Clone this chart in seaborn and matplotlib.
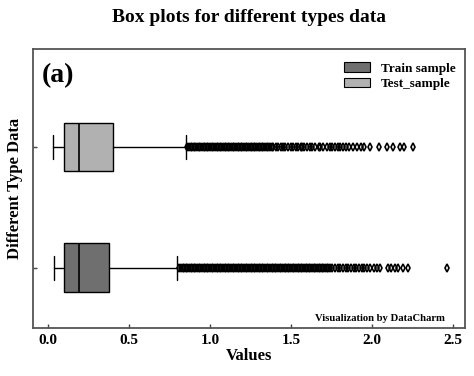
import matplotlib
matplotlib.use("Agg")
import matplotlib.pyplot as plt
import seaborn as sns
from matplotlib.patches import Patch

# ---- data ----
categories = ["Train sample", "Test_sample"]
box_colors = ["#6f6f6f", "#b1b1b1"]

# whisker low, Q1, median, Q3, whisker high
train_stats = [0.035, 0.097, 0.19, 0.378, 0.796]
test_stats = [0.033, 0.097, 0.19, 0.40, 0.85]

train_fliers = [0.81, 0.82, 0.83, 0.84, 0.85, 0.86, 0.87, 0.88, 0.89, 0.90,
                0.91, 0.92, 0.93, 0.94, 0.95, 0.96, 0.97, 0.98, 0.99, 1.00,
                1.01, 1.02, 1.03, 1.04, 1.05, 1.06, 1.07, 1.08, 1.09, 1.10,
                1.11, 1.12, 1.13, 1.14, 1.15, 1.16, 1.17, 1.18, 1.19, 1.20,
                1.21, 1.22, 1.23, 1.24, 1.25, 1.26, 1.27, 1.28, 1.29, 1.30,
                1.31, 1.32, 1.33, 1.34, 1.35, 1.36, 1.37, 1.38, 1.39, 1.40,
                1.41, 1.42, 1.43, 1.44, 1.45, 1.46, 1.47, 1.48, 1.49, 1.50,
                1.51, 1.52, 1.53, 1.54, 1.55, 1.56, 1.57, 1.58, 1.59, 1.60,
                1.61, 1.62, 1.63, 1.64, 1.65, 1.66, 1.67, 1.68, 1.69, 1.70,
                1.71, 1.72, 1.73, 1.74, 1.75, 1.77, 1.79, 1.80, 1.82, 1.84,
                1.85, 1.87, 1.89, 1.90, 1.92, 1.94, 1.95, 1.97, 1.99, 2.01,
                2.03, 2.05, 2.10, 2.12, 2.14, 2.16, 2.19, 2.22, 2.46]
test_fliers = [0.86, 0.87, 0.88, 0.89, 0.90, 0.91, 0.92, 0.93, 0.94, 0.95,
               0.96, 0.97, 0.98, 0.99, 1.00, 1.01, 1.02, 1.03, 1.04, 1.05,
               1.06, 1.07, 1.08, 1.09, 1.10, 1.11, 1.12, 1.13, 1.14, 1.15,
               1.16, 1.17, 1.18, 1.19, 1.20, 1.21, 1.22, 1.23, 1.24, 1.25,
               1.26, 1.27, 1.28, 1.29, 1.30, 1.31, 1.32, 1.33, 1.34, 1.35,
               1.36, 1.37, 1.38, 1.39, 1.41, 1.42, 1.44, 1.45, 1.46, 1.48,
               1.50, 1.51, 1.53, 1.54, 1.56, 1.57, 1.58, 1.60, 1.62, 1.63,
               1.65, 1.67, 1.68, 1.70, 1.72, 1.74, 1.75, 1.77, 1.79, 1.80,
               1.82, 1.84, 1.86, 1.88, 1.91, 1.93, 1.95, 1.99, 2.04, 2.09,
               2.13, 2.17, 2.20, 2.25]

xticks = [0.0, 0.5, 1.0, 1.5, 2.0, 2.5]

# ---- style ----
sns.set_style("ticks")
plt.rcParams["font.family"] = ["Liberation Serif", "DejaVu Serif"]
plt.rcParams["font.weight"] = "bold"
plt.rcParams["text.color"] = "black"
plt.rcParams["axes.labelcolor"] = "black"
plt.rcParams["xtick.color"] = "black"
plt.rcParams["ytick.color"] = "black"

fig = plt.figure(figsize=(4.74, 3.76), dpi=100)
ax = fig.add_axes([33 / 474, 1 - 328 / 376, (465 - 33) / 474, (328 - 49) / 376])

def make_stats(s, fl, label):
    return dict(whislo=s[0], q1=s[1], med=s[2], q3=s[3], whishi=s[4],
                fliers=fl, label=label)

stats = [make_stats(train_stats, train_fliers, categories[0]),
         make_stats(test_stats, test_fliers, categories[1])]

bp = ax.bxp(stats, positions=[0, 1], vert=False, widths=0.4, patch_artist=True,
            showfliers=True,
            boxprops=dict(edgecolor="black", linewidth=1.0),
            medianprops=dict(color="black", linewidth=1.2),
            whiskerprops=dict(color="black", linewidth=1.0),
            capprops=dict(color="black", linewidth=1.0),
            capwidths=0.2,
            flierprops=dict(marker="d", markerfacecolor="none",
                            markeredgecolor="black", markersize=4.0,
                            markeredgewidth=1.2, linestyle="none"))
for patch, c in zip(bp["boxes"], box_colors):
    patch.set_facecolor(c)

ax.set_xlim(-0.093, 2.574)
ax.set_ylim(-0.5, 1.81)
ax.set_xticks(xticks)
ax.set_xticklabels([f"{t:.1f}" for t in xticks], fontsize=11, fontweight="bold")
ax.set_yticks([0, 1])
ax.set_yticklabels([])
ax.tick_params(direction="in", length=3, width=1, color="#444444", pad=4)
for sp in ax.spines.values():
    sp.set_color("#555555")
    sp.set_linewidth(1.3)
    sp.set_visible(True)

ax.set_xlabel("Values", fontsize=12, fontweight="bold", labelpad=1)
ax.set_ylabel("Different Type Data", fontsize=12, fontweight="bold", labelpad=3)
fig.suptitle("Box plots for different types data", fontsize=14, fontweight="bold",
             x=249 / 474, y=1 - 18 / 376, va="center")

ax.text(0.02, 0.95, "(a)", transform=ax.transAxes, fontsize=20,
        fontweight="bold", va="top", ha="left")
ax.text(0.954, 0.018, "Visualization by DataCharm", transform=ax.transAxes,
        fontsize=7.7, fontweight="bold", va="bottom", ha="right")

handles = [Patch(facecolor=box_colors[0], edgecolor="black", linewidth=0.8,
                 label=categories[0]),
           Patch(facecolor=box_colors[1], edgecolor="black", linewidth=0.8,
                 label=categories[1])]
ax.legend(handles=handles, loc="upper right", frameon=False,
          prop=dict(size=9.5, weight="bold"), handlelength=2.0, handleheight=0.7,
          handletextpad=0.8, labelspacing=0.25, borderaxespad=0.3,
          bbox_to_anchor=(1.0, 0.985))

fig.savefig("out.png", dpi=100)
